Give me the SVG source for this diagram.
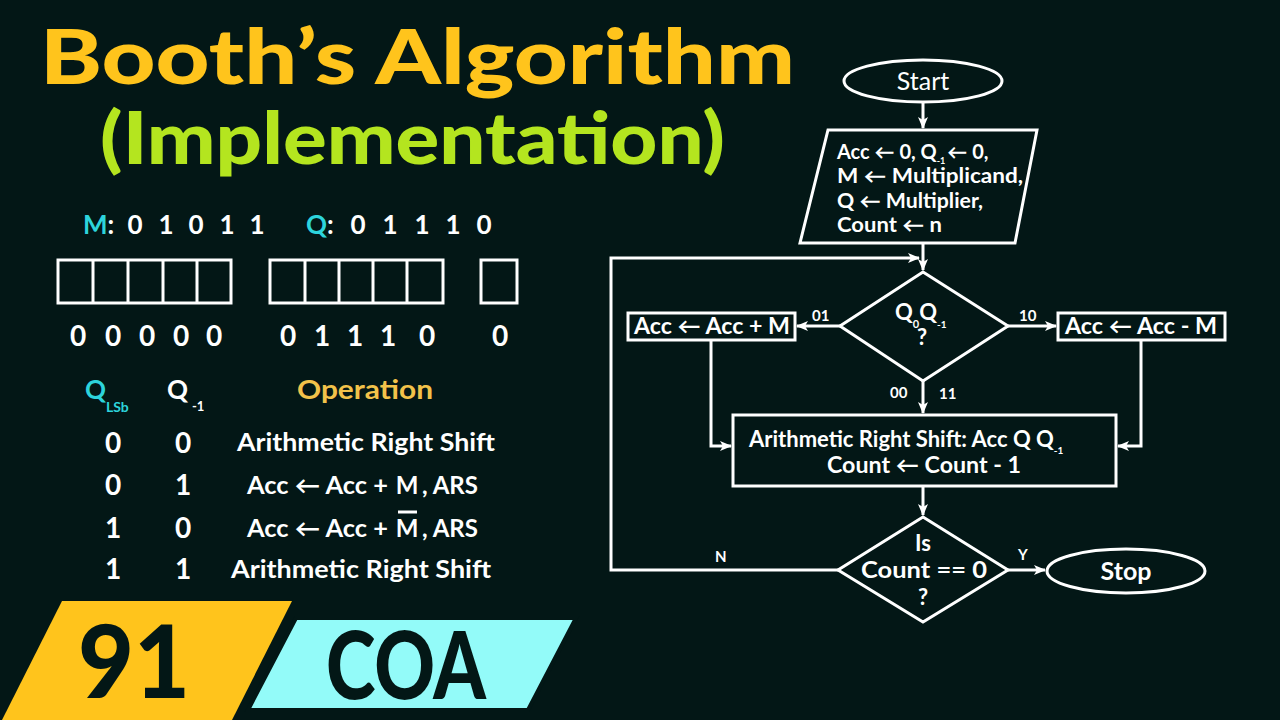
<svg xmlns="http://www.w3.org/2000/svg" width="1280" height="720" viewBox="0 0 1280 720">
<defs>
<marker id="arr" viewBox="0 0 12 10" markerWidth="12" markerHeight="10" refX="11" refY="5" orient="auto" markerUnits="userSpaceOnUse">
<path d="M0,0 L12,5 L0,10 L3,5 Z" fill="#ffffff"/>
</marker>
<style>
.t{font-family:Lato,"Open Sans",sans-serif;font-weight:bold;fill:#ffffff}
.fc{font-size:22px}
.pl{font-size:20px}
.sh{fill:none;stroke:#ffffff;stroke-width:3}
.ln{fill:none;stroke:#ffffff;stroke-width:3}
.cell{fill:none;stroke:#ffffff;stroke-width:3}
.big{font-size:28px}
.tb{font-size:24px}
</style>
</defs>
<rect width="1280" height="720" fill="#031716"/>

<g id="title">
<text x="40" y="84" class="t" style="font-size:76px;fill:#FFC41C;font-weight:900" textLength="755" lengthAdjust="spacingAndGlyphs">Booth’s Algorithm</text>
<text x="100" y="164" class="t" style="font-size:72px;fill:#B4E51F;font-weight:900" textLength="625" lengthAdjust="spacingAndGlyphs">(Implementation)</text>
</g>

<g id="values">
<text x="83" y="234" class="t" style="font-size:26px"><tspan fill="#2DD4DC">M</tspan>:</text>
<g class="t" style="font-size:26px" text-anchor="middle">
<text x="135" y="234">0</text><text x="166" y="234">1</text><text x="196" y="234">0</text><text x="227" y="234">1</text><text x="257" y="234">1</text>
<text x="358" y="234">0</text><text x="390" y="234">1</text><text x="422" y="234">1</text><text x="453" y="234">1</text><text x="484" y="234">0</text>
</g>
<text x="306" y="234" class="t" style="font-size:26px"><tspan fill="#2DD4DC">Q</tspan>:</text>
</g>

<g id="registers">
<rect x="58" y="260" width="173" height="43" class="cell"/>
<path d="M93,260V303M128,260V303M163,260V303M197,260V303" class="cell"/>
<rect x="270" y="260" width="173" height="43" class="cell"/>
<path d="M305,260V303M339,260V303M373,260V303M407,260V303" class="cell"/>
<rect x="481" y="260" width="36" height="43" class="cell"/>
<g class="t big" text-anchor="middle">
<text x="78" y="346">0</text><text x="113" y="346">0</text><text x="147" y="346">0</text><text x="181" y="346">0</text><text x="214" y="346">0</text>
<text x="288" y="346">0</text><text x="322" y="346">1</text><text x="355" y="346">1</text><text x="388" y="346">1</text><text x="427" y="346">0</text>
<text x="500" y="346">0</text>
</g>
</g>

<g id="table">
<text x="85" y="399" class="t" style="font-size:26px;fill:#2DD4DC">Q<tspan style="font-size:14px" dy="13">LSb</tspan></text>
<text x="167" y="399" class="t" style="font-size:26px">Q<tspan style="font-size:13px" dx="4" dy="12">-1</tspan></text>
<text x="365" y="399" class="t" style="font-size:27px;fill:#F2C24A" text-anchor="middle" textLength="136" lengthAdjust="spacingAndGlyphs">Operation</text>
<g class="t big" text-anchor="middle">
<text x="113" y="453">0</text><text x="183" y="453">0</text>
<text x="113" y="495">0</text><text x="183" y="495">1</text>
<text x="113" y="538">1</text><text x="183" y="538">0</text>
<text x="113" y="579">1</text><text x="183" y="579">1</text>
</g>
<g class="t tb">
<text x="237" y="451" textLength="258" lengthAdjust="spacingAndGlyphs">Arithmetic Right Shift</text>
<text x="247" y="494" textLength="141" lengthAdjust="spacingAndGlyphs">Acc ← Acc +</text>
<text x="407" y="494" text-anchor="middle">M</text>
<text x="422" y="494">, ARS</text>
<text x="247" y="537" textLength="141" lengthAdjust="spacingAndGlyphs">Acc ← Acc +</text>
<text x="407" y="537" text-anchor="middle">M</text>
<text x="422" y="537">, ARS</text>
<text x="231" y="578" textLength="260" lengthAdjust="spacingAndGlyphs">Arithmetic Right Shift</text>
</g>
<path d="M398,512 H417" stroke="#ffffff" stroke-width="3"/>
</g>

<g id="badge">
<polygon points="62,601 292,601 232,720 2,720" fill="#FFC41C"/>
<text transform="translate(134,698) scale(1,1.2)" class="t" style="font-size:84px;fill:#031716;font-weight:900" text-anchor="middle" textLength="112" lengthAdjust="spacingAndGlyphs">91</text>
<polygon points="296,618 576,618 528,710 248,710" fill="#93FBF9" stroke="#031716" stroke-width="4"/>
<text transform="translate(406,699) scale(1,1.2)" class="t" style="font-size:78px;fill:#031716;font-weight:900" text-anchor="middle" textLength="160" lengthAdjust="spacingAndGlyphs">COA</text>
</g>

<g id="connectors">
<path d="M923,102 V128" class="ln" marker-end="url(#arr)"/>
<path d="M923,243 V270" class="ln" marker-end="url(#arr)"/>
<path d="M840,326 H797" class="ln" marker-end="url(#arr)"/>
<path d="M1008,326 H1056" class="ln" marker-end="url(#arr)"/>
<path d="M923,381 V413" class="ln" marker-end="url(#arr)"/>
<path d="M711,340 V446 H731" class="ln" marker-end="url(#arr)"/>
<path d="M1141,340 V446 H1118" class="ln" marker-end="url(#arr)"/>
<path d="M923,486 V515" class="ln" marker-end="url(#arr)"/>
<path d="M1008,570 H1045" class="ln" marker-end="url(#arr)"/>
<path d="M838,570 H611 V258 H919" class="ln" marker-end="url(#arr)"/>
<g class="t" style="font-size:15px">
<text x="812" y="321">01</text>
<text x="1019" y="321">10</text>
<text x="890" y="398">00</text>
<text x="939" y="399">11</text>
<text x="715" y="562">N</text>
<text x="1018" y="560">Y</text>
</g>
</g>

<g id="start">
<ellipse cx="923" cy="81" rx="79" ry="21" class="sh"/>
<text x="923" y="90" class="t" style="font-size:25px;font-weight:normal" text-anchor="middle">Start</text>
</g>

<g id="init">
<polygon points="828,130 1037,130 1015,243 800,243" class="sh"/>
<g class="t pl">
<text x="837" y="159">Acc ← 0, Q<tspan style="font-size:9px" dy="5">-1</tspan><tspan dx="2" dy="-5">← 0,</tspan></text>
<text x="837" y="183" textLength="186" lengthAdjust="spacingAndGlyphs">M ← Multiplicand,</text>
<text x="837" y="208" textLength="146" lengthAdjust="spacingAndGlyphs">Q ← Multiplier,</text>
<text x="837" y="232" textLength="105" lengthAdjust="spacingAndGlyphs">Count ← n</text>
</g>
</g>

<g id="decision1">
<polygon points="923,272 1008,326 923,381 840,326" class="sh"/>
<text x="895" y="320" class="t fc">Q<tspan style="font-size:11px" dy="8">0</tspan><tspan dy="-8">Q</tspan><tspan style="font-size:10px" dy="8">-1</tspan></text>
<text x="922" y="345" class="t fc" text-anchor="middle">?</text>
</g>

<g id="add">
<rect x="628" y="313" width="167" height="27" class="sh"/>
<text x="712" y="334" class="t fc" text-anchor="middle" textLength="156" lengthAdjust="spacingAndGlyphs">Acc ← Acc + M</text>
</g>

<g id="sub">
<rect x="1058" y="313" width="167" height="27" class="sh"/>
<text x="1141" y="334" class="t fc" text-anchor="middle" textLength="152" lengthAdjust="spacingAndGlyphs">Acc ← Acc - M</text>
</g>

<g id="shift">
<rect x="733" y="415" width="383" height="71" class="sh"/>
<text x="749" y="447" class="t fc">Arithmetic Right Shift: Acc Q Q<tspan style="font-size:10px" dy="7">-1</tspan></text>
<text x="924" y="473" class="t fc" text-anchor="middle" textLength="194" lengthAdjust="spacingAndGlyphs">Count ← Count - 1</text>
</g>

<g id="decision2">
<polygon points="923,517 1008,570 923,622 838,570" class="sh"/>
<g class="t fc" text-anchor="middle">
<text x="923" y="551">Is</text>
<text x="924" y="578" textLength="126" lengthAdjust="spacingAndGlyphs">Count == 0</text>
<text x="923" y="605">?</text>
</g>
</g>

<g id="stop">
<ellipse cx="1126" cy="571" rx="79" ry="22" class="sh"/>
<text x="1126" y="580" class="t" style="font-size:25px" text-anchor="middle">Stop</text>
</g>
</svg>
